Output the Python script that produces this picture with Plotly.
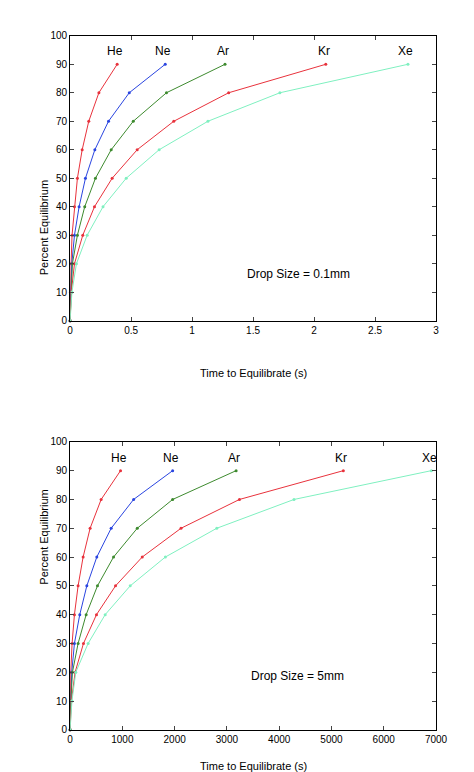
import plotly.graph_objects as go

pct = [0, 10, 20, 30, 40, 50, 60, 70, 80, 90]
gases = ["He", "Ne", "Ar", "Kr", "Xe"]
colors = ["#e8323c", "#2a45e0", "#3d8a2e", "#e8323c", "#7ff0c0"]

t_small = {
    "He": [0, 0.003, 0.008, 0.016, 0.036, 0.06, 0.099, 0.153, 0.236, 0.386],
    "Ne": [0, 0.005, 0.014, 0.036, 0.074, 0.126, 0.203, 0.315, 0.485, 0.78],
    "Ar": [0, 0.008, 0.019, 0.06, 0.12, 0.208, 0.337, 0.518, 0.79, 1.27],
    "Kr": [0, 0.01, 0.036, 0.104, 0.2, 0.345, 0.55, 0.85, 1.30, 2.096],
    "Xe": [0, 0.015, 0.052, 0.14, 0.27, 0.46, 0.73, 1.13, 1.72, 2.77],
}
t_large = {
    "He": [0, 5, 13, 38, 83, 153, 249, 383, 594, 965],
    "Ne": [0, 10, 32, 83, 185, 320, 511, 786, 1215, 1962],
    "Ar": [0, 15, 45, 153, 307, 524, 831, 1285, 1962, 3176],
    "Kr": [0, 25, 96, 256, 505, 869, 1380, 2122, 3240, 5227],
    "Xe": [0, 35, 109, 345, 671, 1150, 1822, 2806, 4283, 6910],
}

fig = go.Figure()
FF = "Liberation Sans, Arial"
font = dict(family=FF, size=11, color="black")
ann = []
for axn, data in (("1", t_small), ("2", t_large)):
    xa = "x" if axn == "1" else "x2"
    ya = "y" if axn == "1" else "y2"
    for g, c in zip(gases, colors):
        fig.add_trace(go.Scatter(x=data[g], y=pct, mode="lines+markers", xaxis=xa, yaxis=ya,
                                 line=dict(color=c, width=1), marker=dict(color=c, size=3),
                                 showlegend=False, cliponaxis=False))
        ann.append(dict(x=data[g][-1], y=pct[-1], xref=xa, yref=ya, text=g, showarrow=False,
                        yshift=13, xshift=-2, font=dict(family=FF, size=12, color="black")))

ann.append(dict(x=0.612, y=0.655, xref="paper", yref="paper", text="Drop Size = 0.1mm", showarrow=False,
                font=dict(family=FF, size=12, color="black")))
ann.append(dict(x=0.61, y=0.123, xref="paper", yref="paper", text="Drop Size = 5mm", showarrow=False,
                font=dict(family=FF, size=12, color="black")))
ann.append(dict(x=0.517, y=0.527, xref="paper", yref="paper", text="Time to Equilibrate (s)", showarrow=False, font=font))
ann.append(dict(x=0.517, y=0.008, xref="paper", yref="paper", text="Time to Equilibrate (s)", showarrow=False, font=font))
ann.append(dict(x=0.059, y=0.78, xref="paper", yref="paper", text="Percent Equilibrium", textangle=-90, showarrow=False, font=font))
ann.append(dict(x=0.059, y=0.251, xref="paper", yref="paper", text="Percent Equilibrium", textangle=-90, showarrow=False, font=font))

axcommon = dict(showgrid=False, zeroline=False, showline=True, linecolor="black", linewidth=1, automargin=False,
                mirror="ticks", ticks="inside", ticklen=4, tickfont=dict(family=FF, size=10, color="black"))
fig.update_layout(
    width=474, height=772, margin=dict(l=0, r=0, t=0, b=0, autoexpand=False),
    plot_bgcolor="white", paper_bgcolor="white",
    xaxis=dict(domain=[0.131, 0.903], range=[0, 3], dtick=0.5, anchor="y", **axcommon),
    yaxis=dict(domain=[0.595, 0.964], range=[0, 100], dtick=10, anchor="x", **axcommon),
    xaxis2=dict(domain=[0.131, 0.903], range=[0, 7000], dtick=1000, anchor="y2", **axcommon),
    yaxis2=dict(domain=[0.065, 0.438], range=[0, 100], dtick=10, anchor="x2", **axcommon),
    annotations=ann,
)
fig.write_html("out.html")
